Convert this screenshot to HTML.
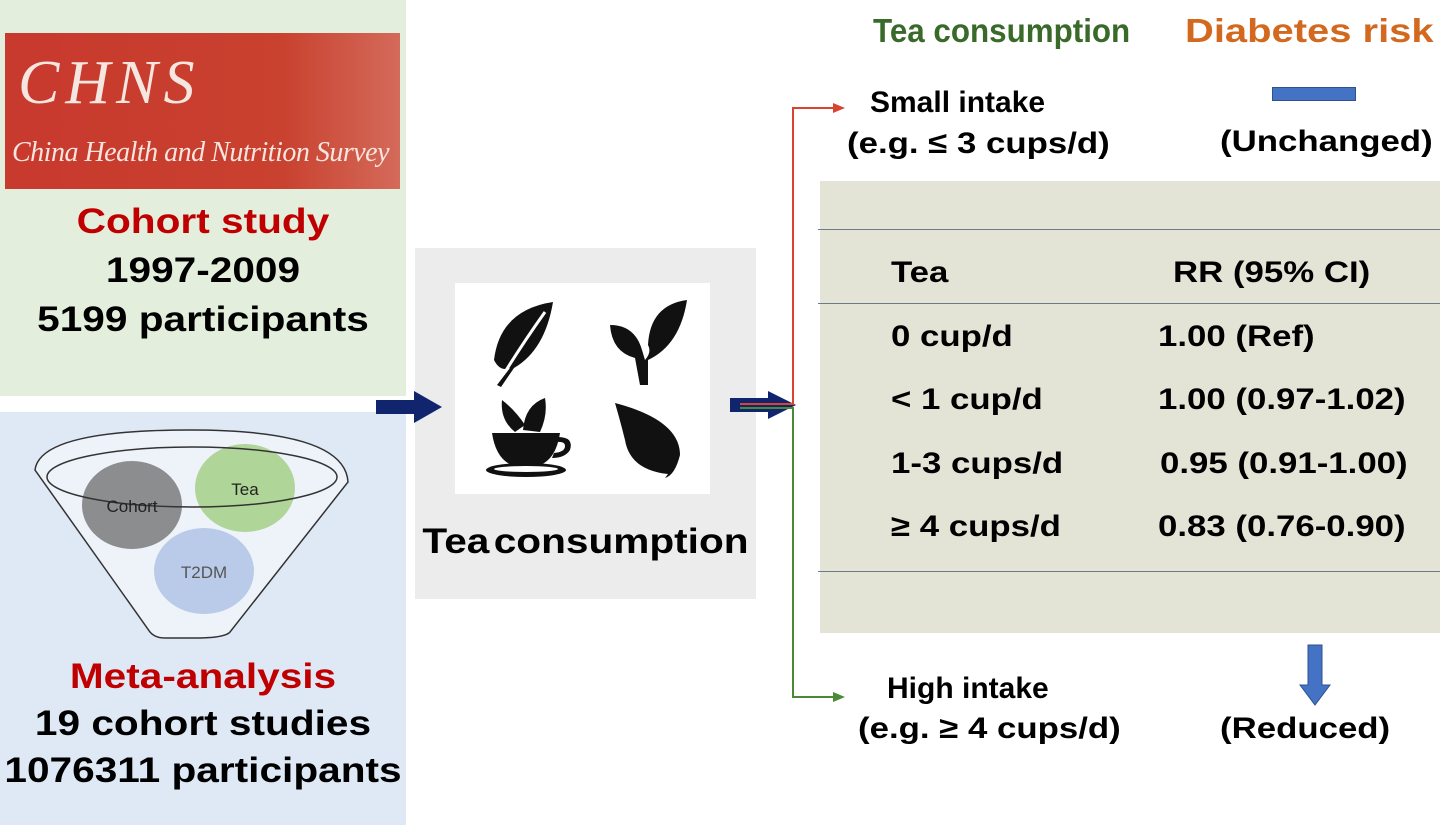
<!DOCTYPE html>
<html><head><meta charset="utf-8"><style>
body{margin:0;width:1440px;height:825px;position:relative;background:#fff;font-family:"Liberation Sans",Arial,sans-serif;overflow:hidden}
.a{position:absolute}
.t{position:absolute;font-weight:bold;white-space:nowrap}
.s{transform:scaleX(1.16);transform-origin:0 0}
.c{transform:scaleX(1.16);transform-origin:50% 0}
</style></head><body>
<div class="a" style="left:0;top:0;width:406px;height:396px;background:#e3efdc"></div>
<div class="a" style="left:5px;top:33px;width:395px;height:156px;background:linear-gradient(90deg,#c8392e 0%,#c9412f 70%,#d46a5a 100%)"></div>
<div class="t" style="left:18px;top:48px;font-family:'Liberation Serif',serif;font-style:italic;font-weight:normal;font-size:62px;color:#f6e6e0;letter-spacing:6px">CHNS</div>
<div class="t" style="left:12px;top:137px;font-family:'Liberation Serif',serif;font-style:italic;font-weight:normal;font-size:28px;color:#f6e6e0;letter-spacing:-0.5px">China Health and Nutrition Survey</div>
<div class="t c" style="left:0;width:406px;text-align:center;top:202px;font-size:35px;color:#c00000">Cohort study</div>
<div class="t c" style="left:0;width:406px;text-align:center;top:251px;font-size:35px;color:#000">1997-2009</div>
<div class="t c" style="left:0;width:406px;text-align:center;top:300px;font-size:35px;color:#000">5199 participants</div>

<div class="a" style="left:0;top:412px;width:406px;height:413px;background:#dfe9f5"></div>
<div class="t c" style="left:0;width:406px;text-align:center;top:657px;font-size:35px;color:#c00000">Meta-analysis</div>
<div class="t c" style="left:0;width:406px;text-align:center;top:704px;font-size:35px;color:#000">19 cohort studies</div>
<div class="t c" style="left:0;width:406px;text-align:center;top:751px;font-size:35px;color:#000">1076311 participants</div>

<div class="a" style="left:415px;top:248px;width:341px;height:351px;background:#ececec"></div>
<div class="a" style="left:455px;top:283px;width:255px;height:211px;background:#fff"></div>
<div class="t c" style="left:415px;width:341px;text-align:center;top:522px;font-size:35px;color:#000;word-spacing:-6px">Tea consumption</div>

<div class="a" style="left:820px;top:181px;width:620px;height:452px;background:#e3e4d6"></div>
<div class="a" style="left:818px;top:229px;width:622px;height:1px;background:#6b7b88"></div>
<div class="a" style="left:818px;top:303px;width:622px;height:1px;background:#6b7b88"></div>
<div class="a" style="left:818px;top:571px;width:622px;height:1px;background:#6b7b88"></div>
<div class="t s" style="left:891px;top:256px;font-size:30px">Tea</div>
<div class="t s" style="left:1173px;top:256px;font-size:30px">RR (95% CI)</div>
<div class="t s" style="left:891px;top:320px;font-size:30px">0 cup/d</div>
<div class="t s" style="left:1158px;top:320px;font-size:30px">1.00 (Ref)</div>
<div class="t s" style="left:891px;top:383px;font-size:30px">&lt; 1 cup/d</div>
<div class="t s" style="left:1158px;top:383px;font-size:30px">1.00 (0.97-1.02)</div>
<div class="t s" style="left:891px;top:447px;font-size:30px">1-3 cups/d</div>
<div class="t s" style="left:1160px;top:447px;font-size:30px">0.95 (0.91-1.00)</div>
<div class="t s" style="left:891px;top:510px;font-size:30px">≥ 4 cups/d</div>
<div class="t s" style="left:1158px;top:510px;font-size:30px">0.83 (0.76-0.90)</div>

<div class="t" style="left:873px;top:12px;font-size:33px;color:#3a6a2a;transform:scaleX(0.95);transform-origin:0 0">Tea consumption</div>
<div class="t" style="left:1185px;top:12px;font-size:33px;color:#d2691e;transform:scaleX(1.21);transform-origin:0 0">Diabetes risk</div>
<div class="t" style="left:870px;top:86px;font-size:30px">Small intake</div>
<div class="t s" style="left:847px;top:127px;font-size:30px">(e.g. ≤ 3 cups/d)</div>
<div class="t s" style="left:1220px;top:125px;font-size:30px">(Unchanged)</div>
<div class="t" style="left:887px;top:672px;font-size:30px">High intake</div>
<div class="t s" style="left:858px;top:712px;font-size:30px">(e.g. ≥ 4 cups/d)</div>
<div class="t s" style="left:1220px;top:712px;font-size:30px">(Reduced)</div>
<div class="a" style="left:1272px;top:87px;width:82px;height:12px;background:#4472c4;border:1px solid #2f528f"></div>

<svg class="a" style="left:0;top:0" width="1440" height="825">
<g fill="none" stroke="#333" stroke-width="1.5">
<path d="M35 470 Q40 430 190 430 Q345 430 348 482 L230 632 Q225 638 195 638 L165 638 Q155 638 150 632 Z" fill="#eef3fa"/>
</g>
<ellipse cx="132" cy="505" rx="50" ry="44" fill="#7a7a7a" opacity="0.85"/>
<ellipse cx="245" cy="488" rx="50" ry="44" fill="#a9d18e" opacity="0.9"/>
<ellipse cx="204" cy="571" rx="50" ry="43" fill="#b4c7e7" opacity="0.9"/>
<ellipse cx="192" cy="477" rx="145" ry="30" fill="none" stroke="#333" stroke-width="1.5"/>
<text x="132" y="512" font-family="Liberation Sans,sans-serif" font-size="17" text-anchor="middle" fill="#222">Cohort</text>
<text x="245" y="495" font-family="Liberation Sans,sans-serif" font-size="17" text-anchor="middle" fill="#222">Tea</text>
<text x="204" y="578" font-family="Liberation Sans,sans-serif" font-size="17" text-anchor="middle" fill="#555">T2DM</text>
<rect x="376" y="400" width="40" height="14" fill="#10256e"/>
<polygon points="414,391 442,407 414,423" fill="#10256e"/>
<rect x="730" y="398" width="40" height="14" fill="#10256e"/>
<polygon points="768,391 796,405 768,419" fill="#10256e"/>
<g fill="none" stroke-width="2">
<path d="M740 404 L793 404 L793 108 L835 108" stroke="#d9432f"/>
<path d="M740 408 L793 408 L793 697 L835 697" stroke="#4a8a35"/>
</g>
<polygon points="833,103 845,108 833,113" fill="#d9432f"/>
<polygon points="833,692 845,697 833,702" fill="#4a8a35"/>
<polygon points="1308,645 1322,645 1322,685 1330,685 1315,705 1300,685 1308,685" fill="#4472c4" stroke="#2f528f"/>
<g fill="#111">
<path d="M553 302 Q500 310 494 360 Q500 372 510 368 L497 385 L501 387 L514 368 Q545 350 553 302 Z"/>
<path d="M687 300 Q650 305 648 345 Q652 352 645 360 L642 350 Q635 325 610 325 Q612 352 635 358 L640 385 L648 385 L648 360 Q680 345 687 300 Z"/>
<path d="M502 400 Q500 420 515 432 L525 425 Q515 410 502 400 Z M545 398 Q525 405 523 430 L540 432 Q548 415 545 398 Z"/>
<path d="M492 433 L560 433 Q556 460 538 466 L514 466 Q496 460 492 433 Z"/>
<path d="M558 437 Q574 437 570 450 Q565 458 552 458 L554 453 Q565 452 565 446 Q565 441 556 442 Z"/>
<ellipse cx="526" cy="470" rx="40" ry="7"/>
<path d="M615 403 Q680 420 680 455 Q675 475 665 478 L668 474 Q630 470 625 440 Q620 420 615 403 Z"/>
</g>
<ellipse cx="526" cy="469" rx="32" ry="3" fill="#fff"/>
<path d="M505 372 Q525 340 545 312" stroke="#fff" stroke-width="3" fill="none"/>
</svg>
</body></html>
